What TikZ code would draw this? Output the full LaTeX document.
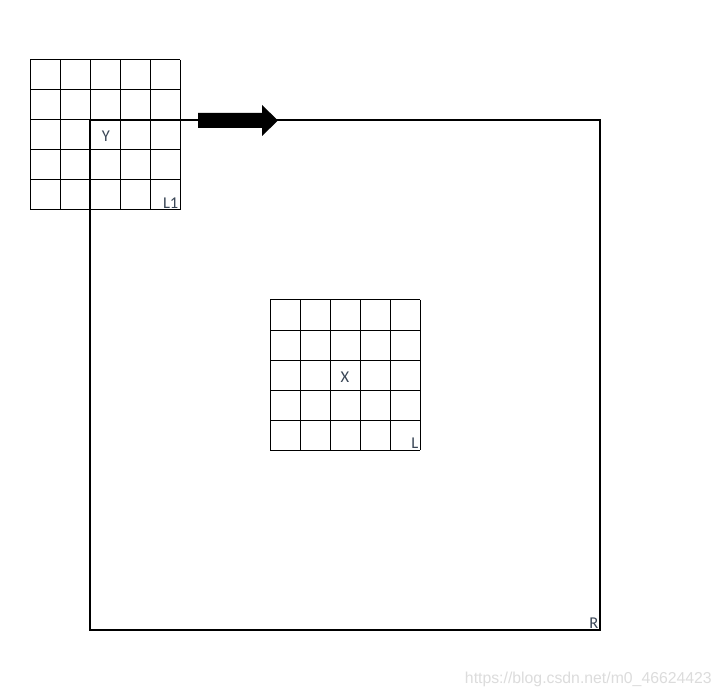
\documentclass[tikz,border=0pt]{standalone}
\usepackage{fontspec}
\setmainfont{Carlito}
\newfontfamily\wmfont{Liberation Sans}
\definecolor{txt}{HTML}{3A4656}
\definecolor{wm}{HTML}{DCDCDC}
\begin{document}
\begin{tikzpicture}[x=1pt,y=-1pt,
  gridline/.style={line width=1pt,black},
  bigbox/.style={line width=2.4pt,black},
  lbl/.style={font=\fontsize{16.5}{16.5}\selectfont,text=txt,inner sep=0pt},
  wmark/.style={font=\wmfont\fontsize{15.8}{16}\selectfont,text=wm,inner sep=0pt,anchor=base east}]
\useasboundingbox[fill=white] (0,0) rectangle (722,692);
% top-left grid
\foreach \i in {0,...,5}{
  \draw[gridline] (30+30*\i,60) -- (30+30*\i,210);
  \draw[gridline] (30,60+30*\i) -- (180,60+30*\i);
}
% centre grid
\foreach \i in {0,...,5}{
  \draw[gridline] (270+30*\i,300) -- (270+30*\i,450);
  \draw[gridline] (270,300+30*\i) -- (420,300+30*\i);
}
% big square
\draw[bigbox] (90,120) rectangle (600,630);
% arrow
\fill[black] (198,113) -- (262,113) -- (262,105) -- (278,120.5) -- (262,136) -- (262,128) -- (198,128) -- cycle;
% labels
\node[lbl] (y) at (106,136) {Y};
\node[lbl] (x) at (345,377) {X};
\node[lbl,anchor=base east] (l1) at (178.5,208.5) {L1};
\node[lbl,anchor=base east] (l) at (418.5,448.5) {L};
\node[lbl,anchor=base east] (r) at (598.5,628.5) {R};
\node[wmark] (w) at (712,683.5) {https://blog.csdn.net/m0\_46624423};
\end{tikzpicture}
\end{document}
